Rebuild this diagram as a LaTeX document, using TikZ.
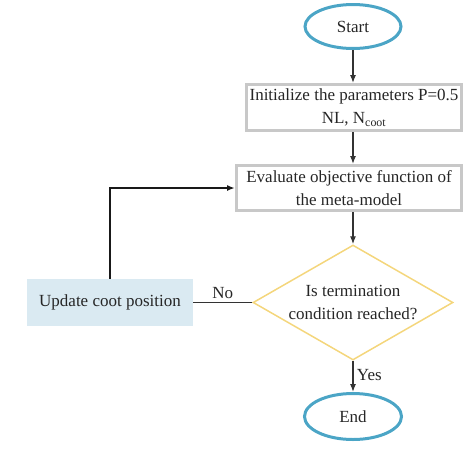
\documentclass[tikz,border=0pt]{standalone}
\usepackage{fontspec}
\setmainfont{Liberation Serif}
\usepackage{tikz}
\usetikzlibrary{shapes.geometric,arrows.meta}
\definecolor{termblue}{HTML}{4BA5C6}
\definecolor{boxgray}{HTML}{C8C8C8}
\definecolor{updblue}{HTML}{DAEAF2}
\definecolor{diamyellow}{HTML}{F4D67C}

\begin{document}
\begin{tikzpicture}[x=1pt,y=-1pt,
  every node/.style = {font=\fontsize{17}{23}\selectfont, text=black!85},
  terminal/.style = {ellipse, draw=termblue, line width=3pt, inner sep=0pt},
  process/.style = {rectangle, draw=boxgray, line width=3pt, align=center, inner sep=0pt},
  decision/.style = {diamond, aspect=1.74, draw=diamyellow, line width=1.5pt, align=center, inner sep=0pt},
  flow/.style = {-{Latex[length=8pt,width=6pt]}, line width=1.2pt, black!80}]
\useasboundingbox (0,0) rectangle (474,467);
\node[terminal, minimum width=96pt, minimum height=44pt] (start) at (353,26.5) {Start};
\node[process, minimum width=215pt, minimum height=46pt] (init) at (354,107.5) {Initialize the parameters P=0.5\\NL, N\textsubscript{coot}};
\node[process, minimum width=225pt, minimum height=45pt] (eval) at (349,188) {Evaluate objective function of\\the meta-model};
\node[decision, minimum width=200pt, minimum height=115pt] (check) at (353,302.5) {Is termination\\condition reached?};
\node[rectangle, fill=updblue, minimum width=166pt, minimum height=47pt] (update) at (110,302.5) {Update coot position};
\node[terminal, minimum width=97pt, minimum height=46pt] (end) at (353,416.5) {End};
\draw[flow] (start.south) -- (start.south |- init.north);
\draw[flow] (start.south |- init.south) -- (start.south |- eval.north);
\draw[flow] (check.north |- eval.south) -- (check.north);
\draw[line width=1.2pt, black!80] (check.west) -- node[above] {No} (update.east);
\draw[flow] (check.south) -- node[right, pos=0.45] {Yes} (end.north);
\draw[-{Latex[length=8pt,width=6pt]}, line width=1.8pt, black!90] (update.north) |- (eval.west);
\end{tikzpicture}
\end{document}
